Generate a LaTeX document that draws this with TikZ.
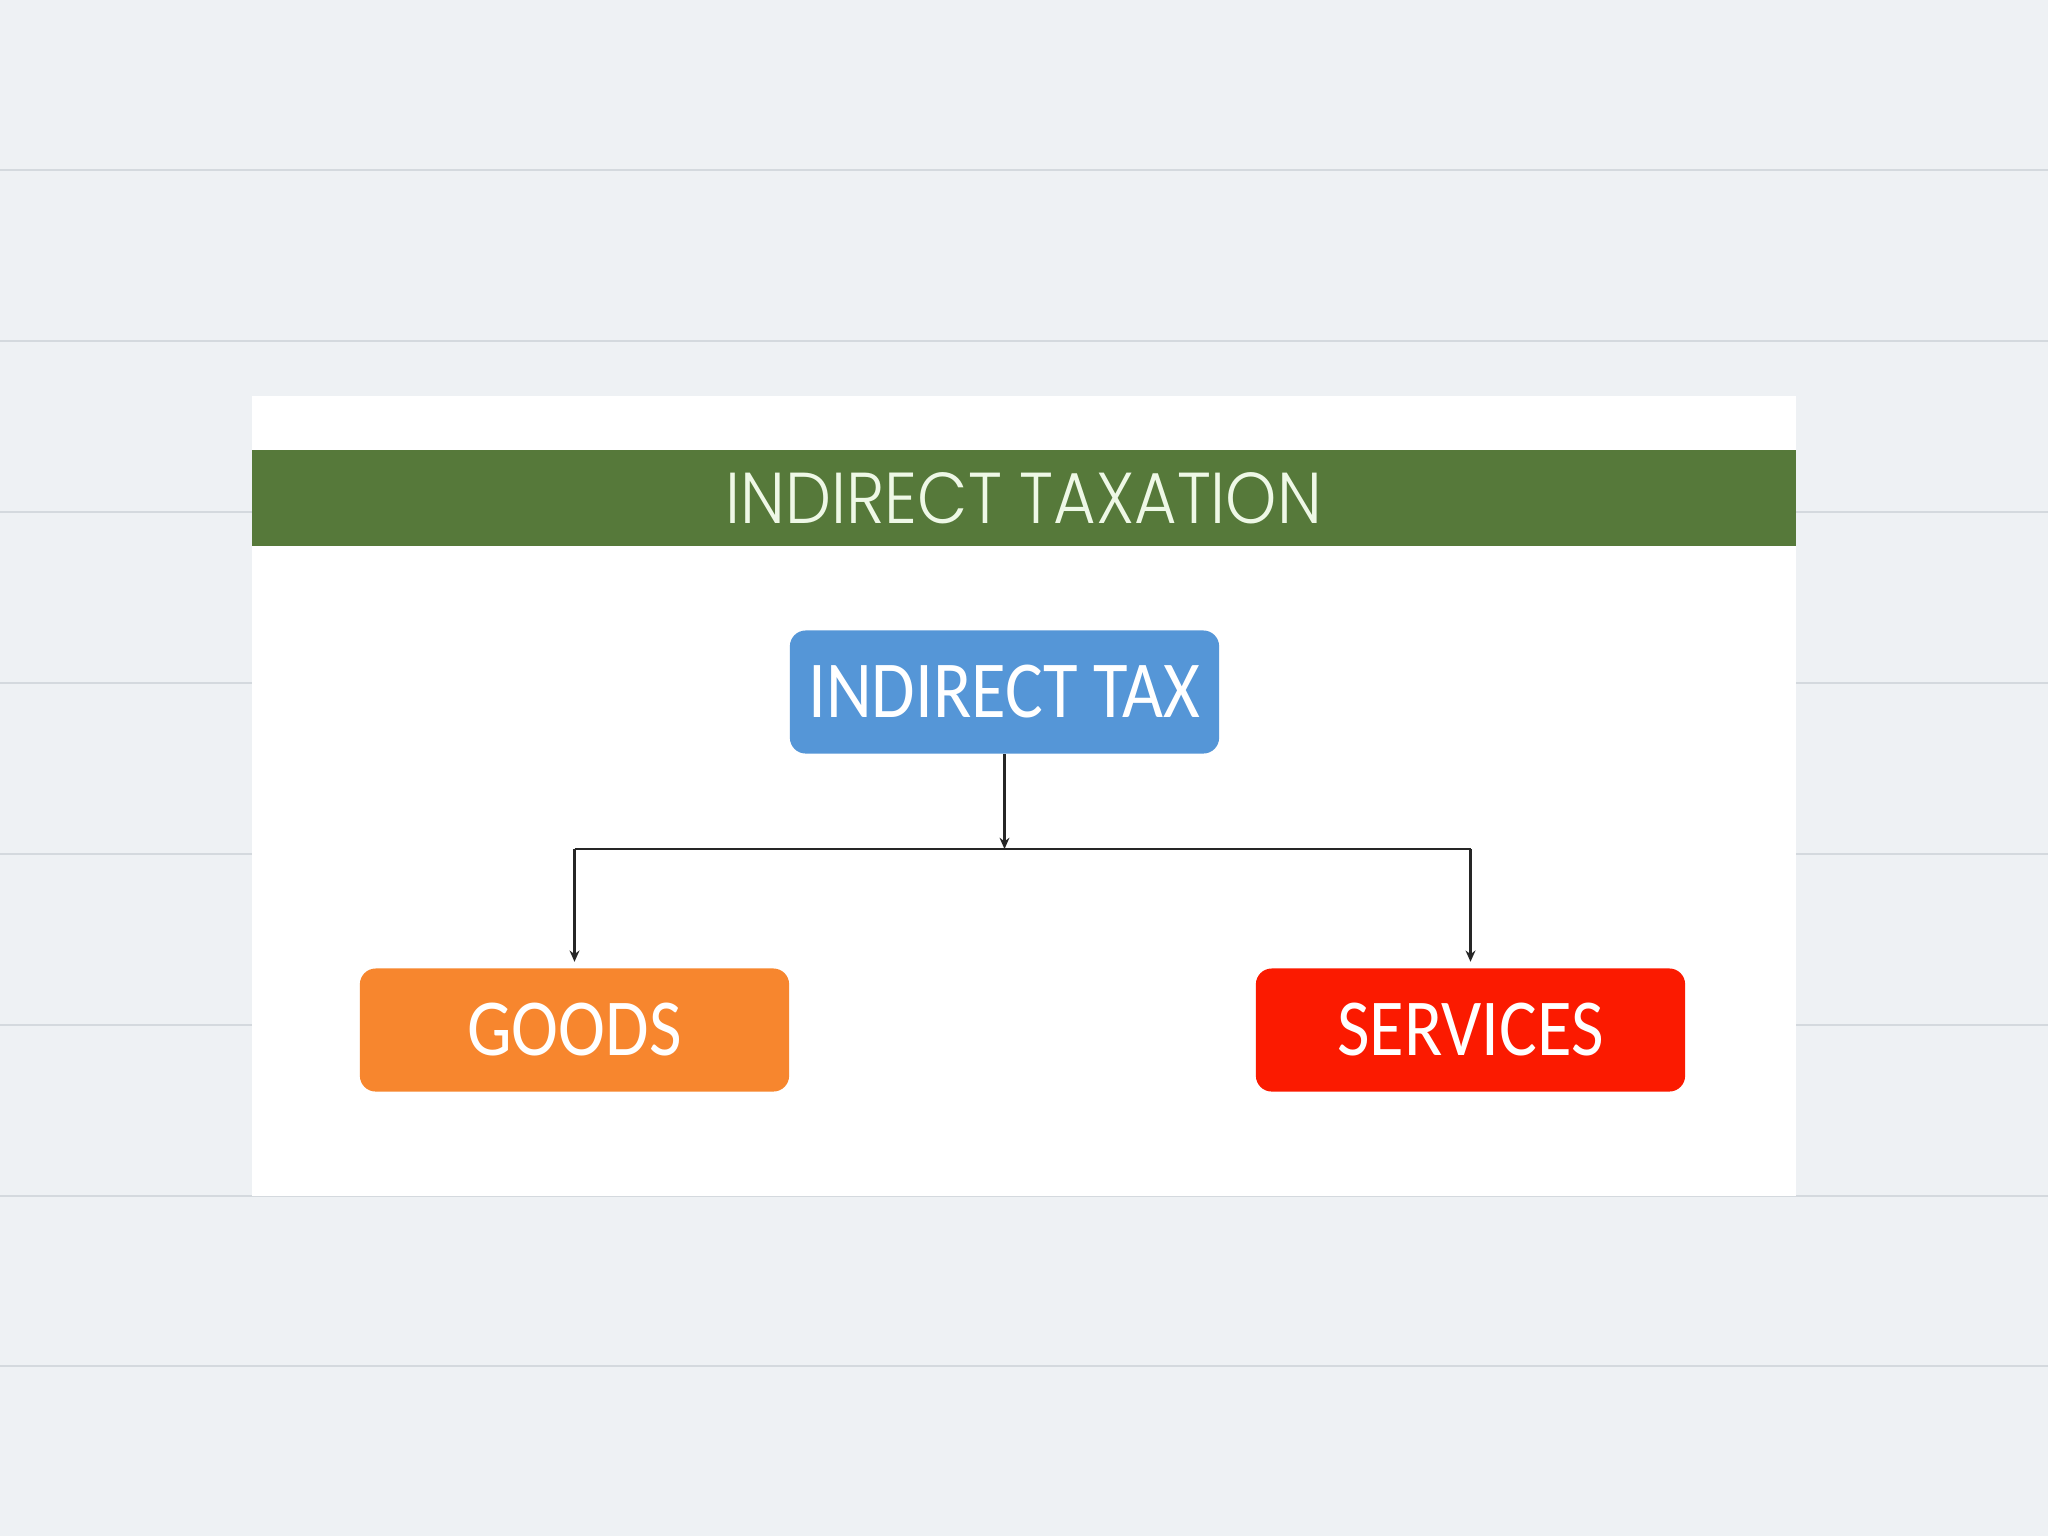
\documentclass[tikz,border=0pt]{standalone}
\usepackage{fontspec}
\usepackage{xcolor}
\usepackage{tikz}
\usetikzlibrary{positioning}
\usetikzlibrary{arrows.meta}
\usetikzlibrary{calc}
\newfontfamily\boxfont{Carlito}[FakeStretch=0.875]
\newfontfamily\titlefont{Poppins Light}[FakeStretch=0.905]
\definecolor{paper}{HTML}{EEF1F4}
\definecolor{rule}{HTML}{D4D9DE}
\definecolor{band}{HTML}{56793A}
\definecolor{bandtext}{HTML}{EEF8E6}
\definecolor{taxblue}{HTML}{5596D7}
\definecolor{goodsorange}{HTML}{F7862E}
\definecolor{servred}{HTML}{FB1A00}
\tikzstyle{taxbox}=[rectangle,rounded corners=4.5pt,inner sep=0pt,minimum width=4.29cm,minimum height=1.23cm,text=white,font=\boxfont\fontsize{23}{26}\selectfont]
\tikzstyle{edge} = [draw,line width=0.7pt,black!85]
\tikzstyle{arrowedge} = [edge,-{Stealth[length=3.2pt,width=2.8pt]}]

\begin{document}
\begin{tikzpicture}[x=0.01cm,y=-0.01cm]

  % paper background with ruled lines
  \fill[paper] (0,0) rectangle (2048,1536);
  \useasboundingbox (0,0) rectangle (2048,1536);
  \foreach \y in {170,341,512,683,854,1025,1196,1366}
     \draw[rule, line width=0.6pt] (0,\y) -- (2048,\y);

  % slide
  \fill[white] (252,396) rectangle (1796,1196);
  \fill[band] (252,450) rectangle (1796,546);
  \node[text=bandtext, font=\titlefont\fontsize{20.5}{24}\selectfont] (title) at (1024,498) {INDIRECT TAXATION};

  \foreach \x/\y/\name/\col/\label in { 1004.5/692/tax/taxblue/INDIRECT TAX, 574.5/1030/goods/goodsorange/GOODS, 1470.5/1030/serv/servred/SERVICES}
          \node[taxbox, fill=\col] (\name) at (\x, \y) {\label};

  \coordinate (split) at (tax.south |- 0,849);
  \coordinate (lft) at (goods.north |- split);
  \coordinate (rgt) at (serv.north |- split);

  \path[arrowedge] (tax.south) -- (split);
  \path[edge] (lft) -- (rgt);
  \foreach \source/ \dest in {lft/goods, rgt/serv}
         \path[arrowedge, shorten >=1.7pt] (\source) -- (\dest);

\end{tikzpicture}
\end{document}
